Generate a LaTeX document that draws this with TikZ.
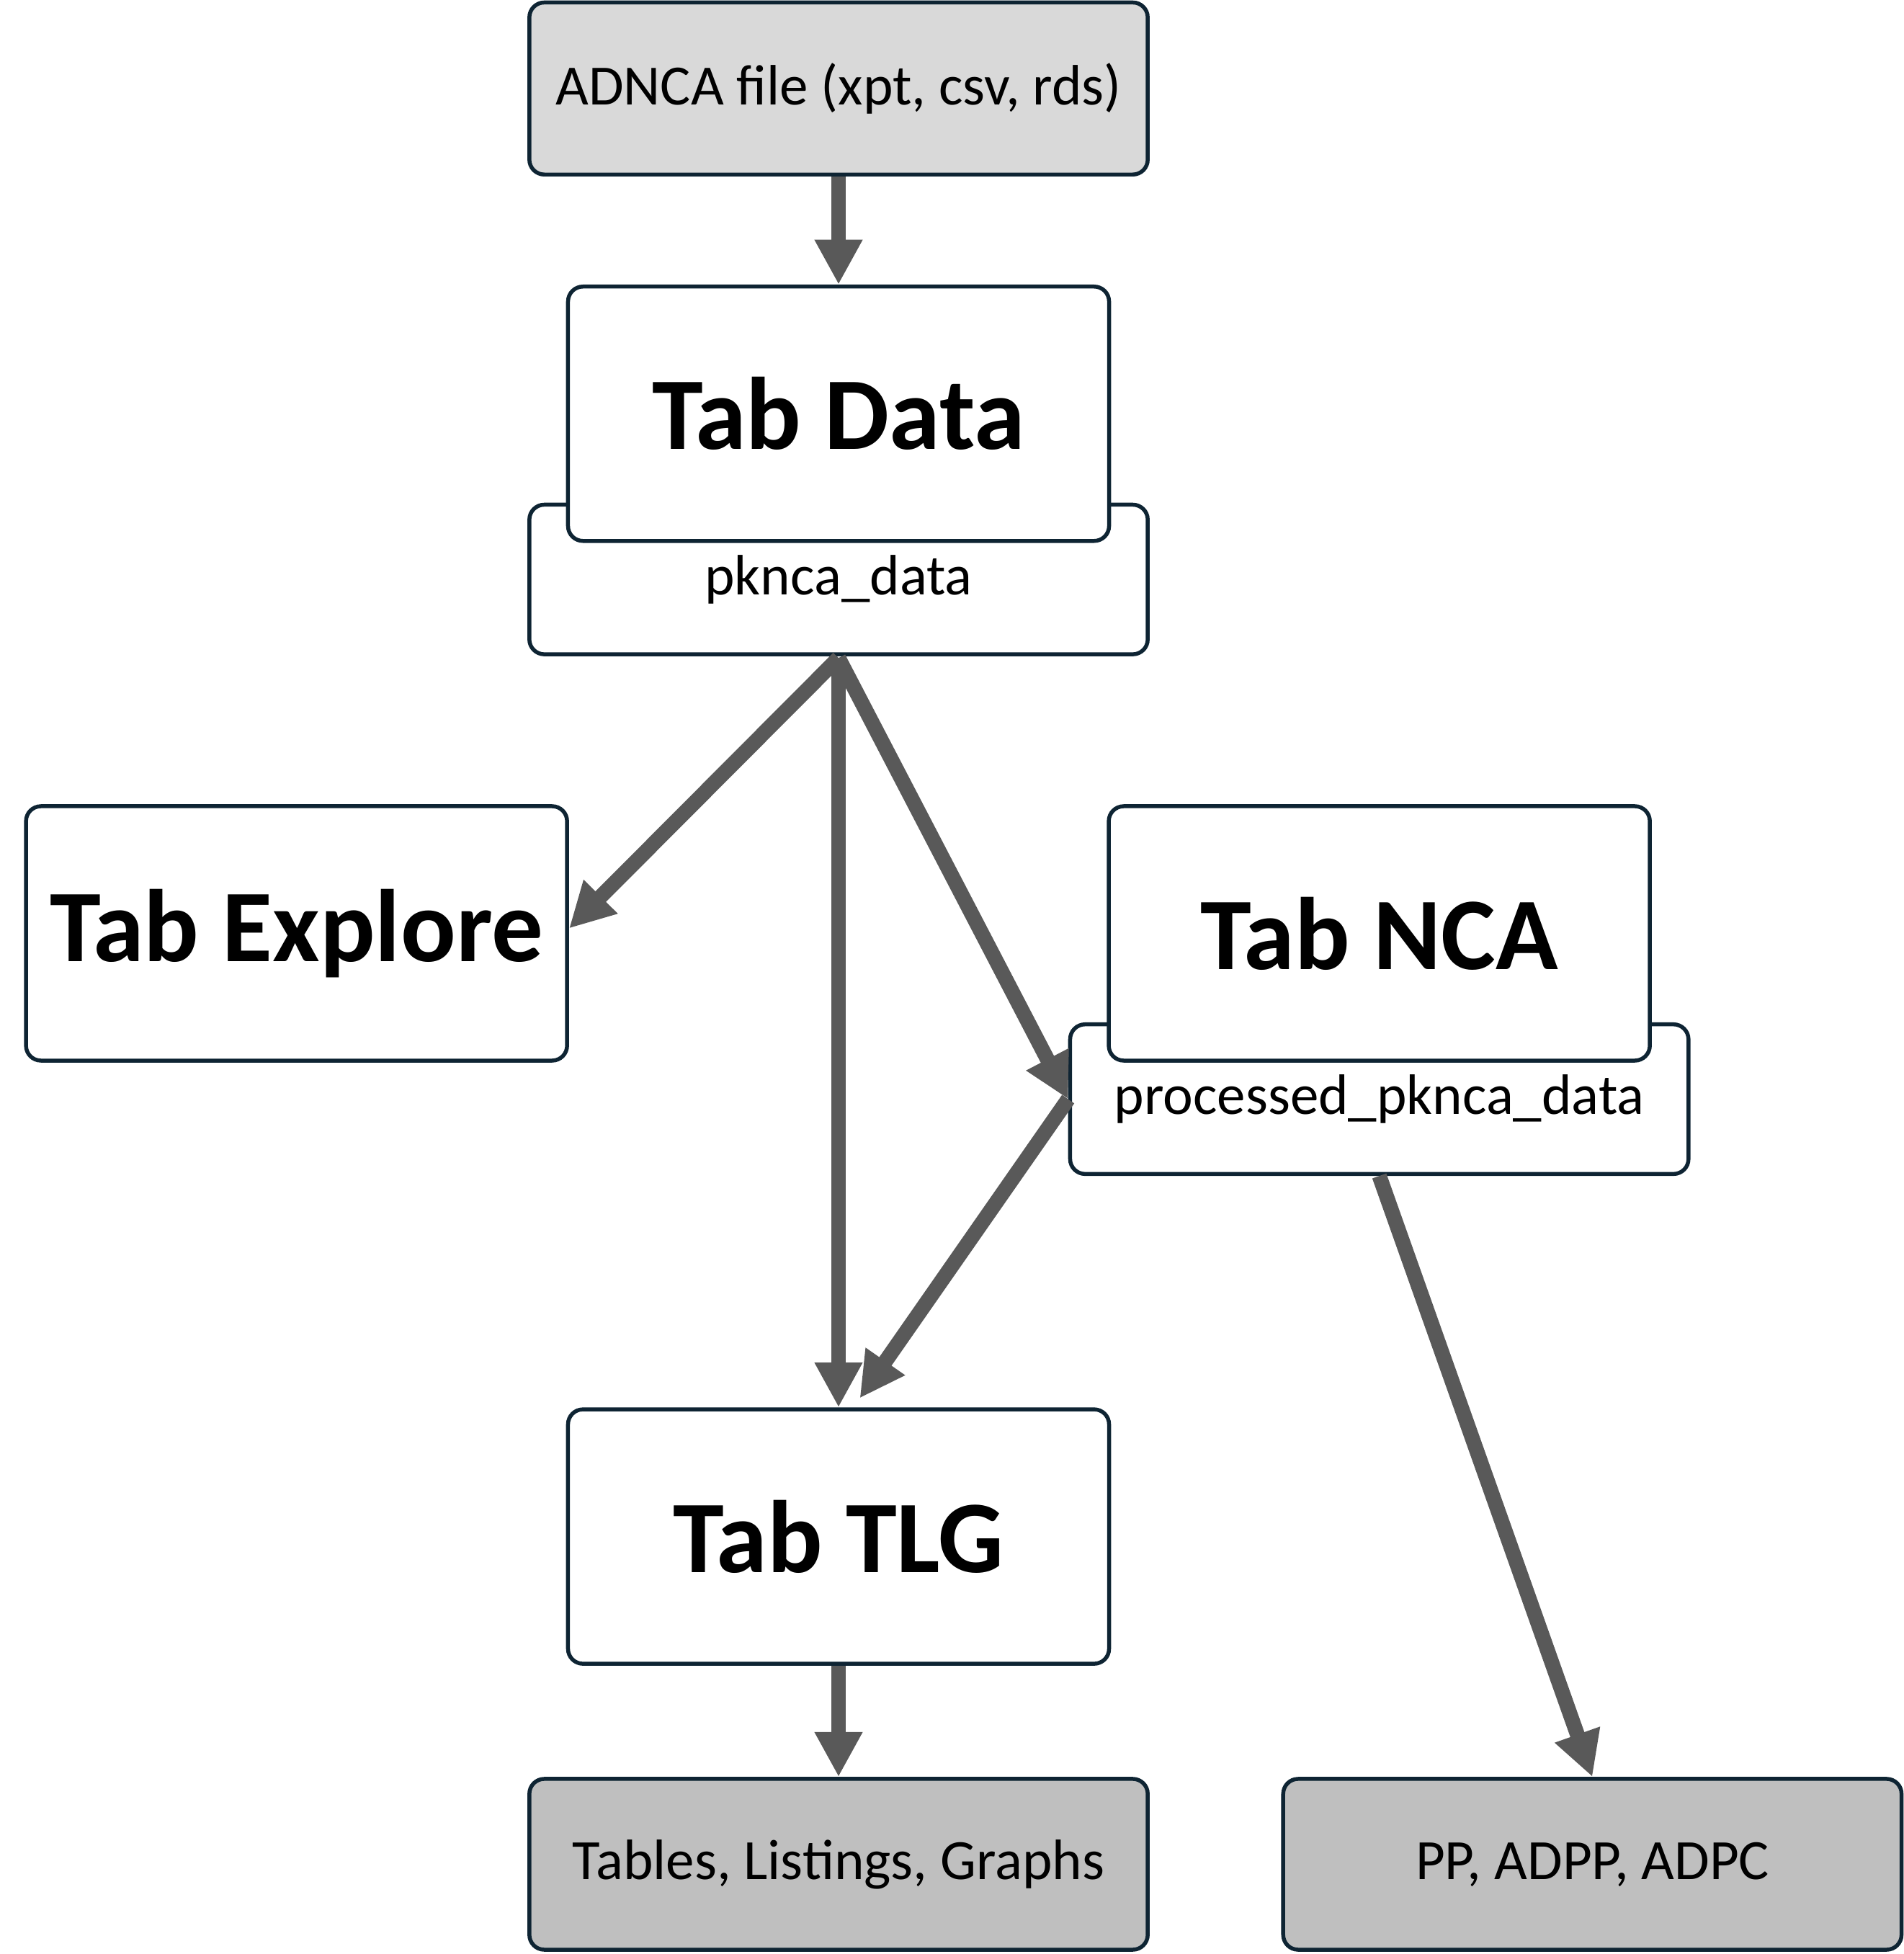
\documentclass[tikz,border=0pt]{standalone}
\usepackage{fontspec}
\setmainfont{Carlito}
\usetikzlibrary{arrows.meta,positioning}
\definecolor{boxline}{HTML}{0E2433}
\definecolor{arrowgray}{HTML}{595959}
\definecolor{filegray}{HTML}{D9D9D9}
\definecolor{outgray}{HTML}{BFBFBF}

\begin{document}
\begin{tikzpicture} [x=0.01cm, y=-0.01cm,
    main node/.style={rectangle, draw=boxline, line width=0.9pt,
        rounded corners=0.12cm, fill=white, align=center, inner sep=0pt},
    tab node/.style={main node, minimum width=4.34cm, minimum height=2.04cm,
        font=\fontsize{23.5}{28}\selectfont\bfseries},
    small node/.style={main node, minimum width=4.96cm, font=\fontsize{13}{16}\selectfont},
    flow/.style={draw=arrowgray, line width=3.4pt,
        -{Triangle[length=0.36cm, width=0.36cm]}}
  ]
  \useasboundingbox (0,0) rectangle (1528,1568);

  \node [small node, fill=filegray, minimum height=1.38cm] (adnca) at (673,71)
    {ADNCA file (xpt, csv, rds)};

  \node [small node, minimum height=1.20cm] (pkdata) at (673,465)
    {pknca\_data};
  \node [tab node] (tabdata) at (673,332) {Tab Data};

  \node [tab node] (tabexplore) at (238,749) {Tab Explore};

  \node [small node, minimum height=1.20cm] (procdata) at (1107,882)
    {processed\_pknca\_data};
  \node [tab node] (tabnca) at (1107,749) {Tab NCA};

  \node [tab node] (tabtlg) at (673,1233) {Tab TLG};

  \node [small node, fill=outgray, minimum height=1.37cm] (tlgout) at (673,1496)
    {Tables, Listings, Graphs};
  \node [small node, fill=outgray, minimum height=1.37cm] (ppout) at (1278,1496)
    {PP, ADPP, ADPC};

  \coordinate (split) at (673,528);
  \coordinate (tlgin) at (690,1122);

  \draw [flow] (adnca.south) -- (tabdata.north);
  \draw [flow] (split) -- (tabexplore.north east |- 0,745);
  \draw [flow] (split) -- (tabtlg.north);
  \draw [flow] (split) -- (procdata.west);
  \draw [flow] (procdata.west) -- (tlgin);
  \draw [flow] (procdata.south) -- (ppout.north);
  \draw [flow] (tabtlg.south) -- (tlgout.north);
\end{tikzpicture}
\end{document}
